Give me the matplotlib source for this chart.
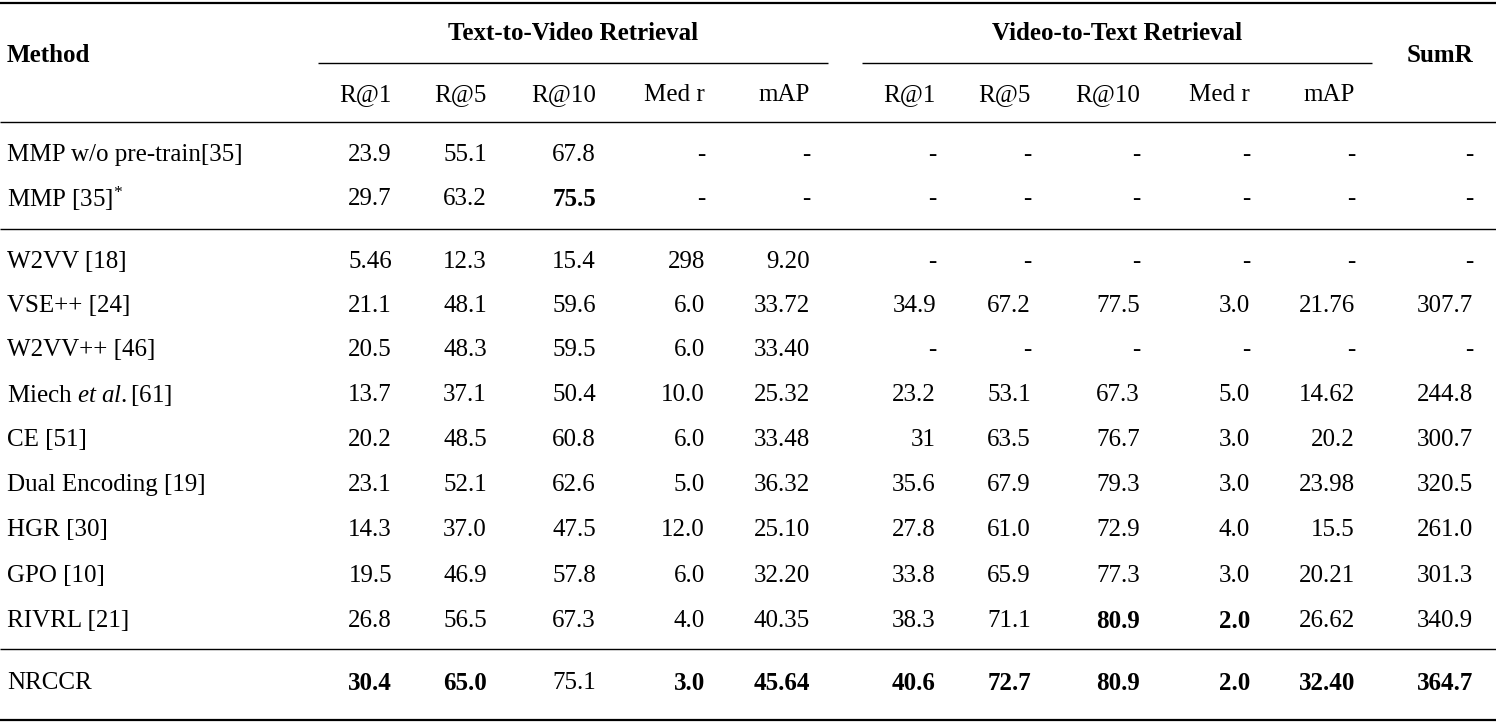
import matplotlib
matplotlib.use("Agg")
import matplotlib.pyplot as plt

plt.rcParams['font.family'] = ['Liberation Serif', 'DejaVu Serif']
plt.rcParams['mathtext.fontset'] = 'custom'
plt.rcParams['mathtext.rm'] = 'Liberation Serif'
plt.rcParams['mathtext.it'] = 'Liberation Serif:italic'

groups = ["Text-to-Video Retrieval", "Video-to-Text Retrieval"]
subcols = ["R@1", "R@5", "R@10", "Med r", "mAP"]
methods = ["MMP w/o pre-train[35]", "MMP [35]$^{*}$", "W2VV [18]", "VSE++ [24]", "W2VV++ [46]",
           "Miech $\\mathit{et\\ al.}$[61]", "CE [51]", "Dual Encoding [19]", "HGR [30]",
           "GPO [10]", "RIVRL [21]", "NRCCR"]
values = [
    ["23.9", "55.1", "67.8", "-", "-", "-", "-", "-", "-", "-", "-"],
    ["29.7", "63.2", "75.5", "-", "-", "-", "-", "-", "-", "-", "-"],
    ["5.46", "12.3", "15.4", "298", "9.20", "-", "-", "-", "-", "-", "-"],
    ["21.1", "48.1", "59.6", "6.0", "33.72", "34.9", "67.2", "77.5", "3.0", "21.76", "307.7"],
    ["20.5", "48.3", "59.5", "6.0", "33.40", "-", "-", "-", "-", "-", "-"],
    ["13.7", "37.1", "50.4", "10.0", "25.32", "23.2", "53.1", "67.3", "5.0", "14.62", "244.8"],
    ["20.2", "48.5", "60.8", "6.0", "33.48", "31", "63.5", "76.7", "3.0", "20.2", "300.7"],
    ["23.1", "52.1", "62.6", "5.0", "36.32", "35.6", "67.9", "79.3", "3.0", "23.98", "320.5"],
    ["14.3", "37.0", "47.5", "12.0", "25.10", "27.8", "61.0", "72.9", "4.0", "15.5", "261.0"],
    ["19.5", "46.9", "57.8", "6.0", "32.20", "33.8", "65.9", "77.3", "3.0", "20.21", "301.3"],
    ["26.8", "56.5", "67.3", "4.0", "40.35", "38.3", "71.1", "80.9", "2.0", "26.62", "340.9"],
    ["30.4", "65.0", "75.1", "3.0", "45.64", "40.6", "72.7", "80.9", "2.0", "32.40", "364.7"],
]
bold = {(1, 2), (10, 7), (10, 8)} | {(11, j) for j in range(11) if j != 2}

W, H = 1496, 724
fig = plt.figure(figsize=(W / 100, H / 100), dpi=100)
ax = fig.add_axes([0, 0, 1, 1])
ax.set_xlim(0, W); ax.set_ylim(H, 0); ax.axis('off')
fs = 18
col_right = [392, 487, 596, 705, 810, 936, 1031, 1140, 1250, 1355, 1473]
row_y = [155, 199, 262, 306, 350, 395, 440, 485, 530, 576, 621, 683]

def hline(y, x0=0, x1=W, lw=1.0):
    ax.plot([x0, x1], [y, y], color='black', lw=lw, solid_capstyle='butt')

hline(3, lw=1.6); hline(122); hline(229); hline(649); hline(720, lw=1.6)
hline(63, 318, 828); hline(63, 862, 1372)

ax.text(7, 55, "Method", fontsize=fs, fontweight='bold', va='center', ha='left')
ax.text(1473, 55, "SumR", fontsize=fs, fontweight='bold', va='center', ha='right')
ax.text(573, 33, groups[0], fontsize=fs, fontweight='bold', va='center', ha='center')
ax.text(1117, 33, groups[1], fontsize=fs, fontweight='bold', va='center', ha='center')
for j, x in enumerate(col_right[:10]):
    ax.text(x, 95, subcols[j % 5], fontsize=fs, va='center', ha='right')

for i, (m, y) in enumerate(zip(methods, row_y)):
    ax.text(7, y, m, fontsize=fs, va='center', ha='left')
    for j, v in enumerate(values[i]):
        ax.text(col_right[j], y, v, fontsize=fs, va='center', ha='right',
                fontweight='bold' if (i, j) in bold else 'normal')

fig.savefig("out.png", dpi=100)
